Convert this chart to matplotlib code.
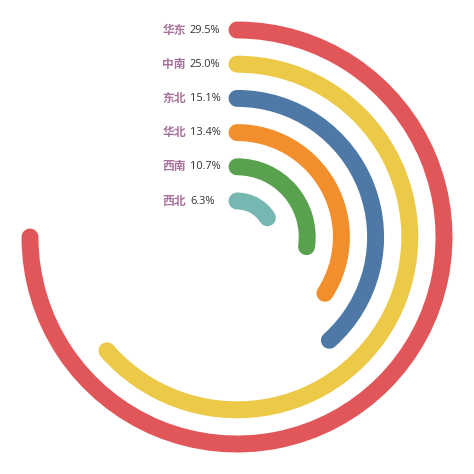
import matplotlib.pyplot as plt
from matplotlib.patches import Arc

plt.rcParams['font.family'] = ['Noto Sans CJK SC', 'DejaVu Sans']

regions = ['华东', '中南', '东北', '华北', '西南', '西北']
shares = [29.5, 25.0, 15.1, 13.4, 10.7, 6.3]
colors = ['#e15759', '#edc948', '#4e79a7', '#f28e2b', '#59a14f', '#76b7b2']

fig = plt.figure(figsize=(4.74, 4.74), dpi=100)
ax = fig.add_axes([0, 0, 1, 1])
ax.set_xlim(0, 474)
ax.set_ylim(0, 474)
ax.set_aspect('equal')
ax.axis('off')

cx, cy = 237, 237
r_outer = 207
step = 34.2
max_share = max(shares)

for i, (name, val, col) in enumerate(zip(regions, shares, colors)):
    r = r_outer - i * step
    sweep = val / max_share * 270
    # clockwise from 12 o'clock
    arc = Arc((cx, cy), 2 * r, 2 * r, theta1=90 - sweep, theta2=90,
              color=col, lw=12.2, capstyle='round')
    ax.add_patch(arc)
    ax.text(186, cy + r, name, ha='right', va='center', fontsize=8.5,
            color='#a9729c', fontweight='bold')
    ax.text(190, cy + r, f'{val:.1f}%', ha='left', va='center', fontsize=7.9,
            color='#333333', family=['Open Sans', 'DejaVu Sans'])

fig.savefig('out.png', dpi=100)
